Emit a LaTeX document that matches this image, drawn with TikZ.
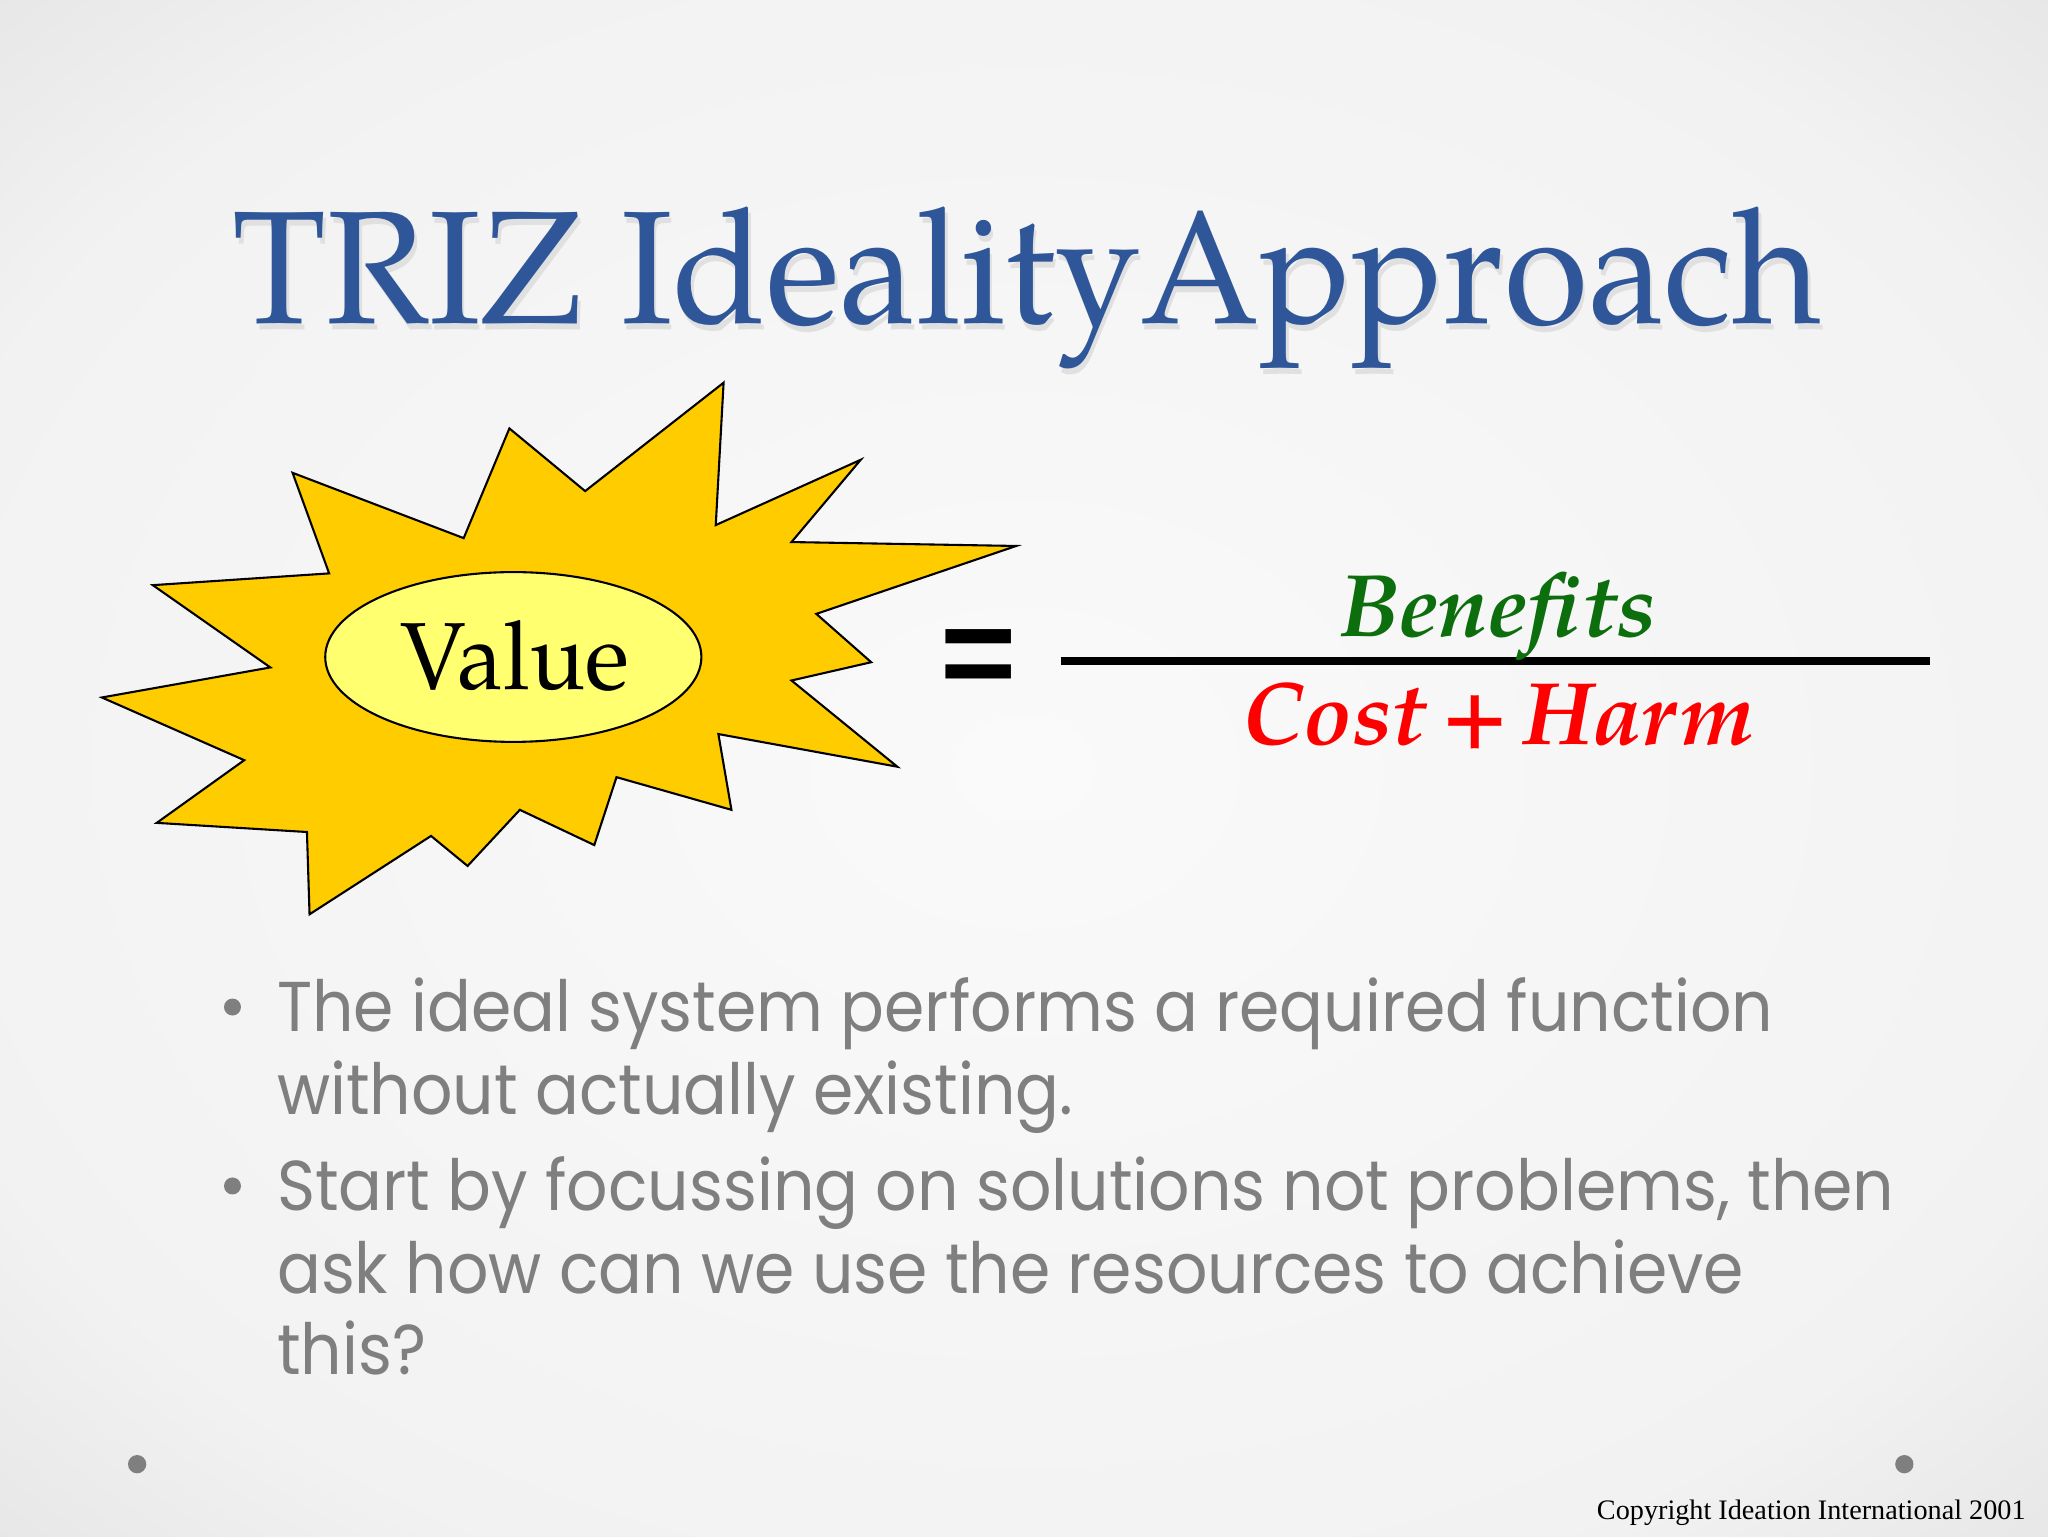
\documentclass[tikz,border=0pt]{standalone}
\usepackage{fontspec}
\setmainfont{Liberation Serif}
\newfontfamily\pagella{TeX Gyre Pagella}
\newfontfamily\gothic{Poppins}
\newfontfamily\arialf{Liberation Sans}
\usetikzlibrary{shapes.geometric}
\definecolor{titleblue}{RGB}{46,86,152}
\definecolor{bengreen}{RGB}{12,110,12}
\definecolor{starfill}{RGB}{255,204,0}
\definecolor{ellfill}{RGB}{255,255,112}
\definecolor{bulletgray}{RGB}{127,127,127}
\definecolor{bgin}{RGB}{250,250,250}
\definecolor{bgmid}{RGB}{242,242,242}
\definecolor{bgout}{RGB}{210,210,210}
\pgfdeclareradialshading{slidebg}{\pgfpoint{0bp}{0bp}}{color(0bp)=(bgin); color(28bp)=(bgmid); color(50bp)=(bgout)}
\tikzset{
  bodytext/.style={anchor=base west, inner sep=0pt, text=bulletgray, xscale=0.92, font=\gothic\fontsize{54}{54}\selectfont},
  bulletdot/.style={circle, fill=bulletgray, inner sep=0pt, minimum size=13pt},
  cornerdot/.style={circle, fill=bulletgray, inner sep=0pt, minimum size=14pt},
  fractext/.style={anchor=base, inner sep=0pt, font=\pagella\bfseries\itshape\fontsize{68}{68}\selectfont},
}
\begin{document}
\begin{tikzpicture}[x=1pt,y=-1pt]
\useasboundingbox (0,0) rectangle (1568,1176);
\shade[shading=slidebg] (0,0) rectangle (1568,1176);
% title
\node[anchor=base west, inner sep=0pt, xscale=0.954, text=black!12, font=\pagella\fontsize{123}{123}\selectfont] (titleshadow) at (180,252) {TRIZ IdealityApproach};
\node[anchor=base west, inner sep=0pt, xscale=0.954, text=titleblue, font=\pagella\fontsize{123}{123}\selectfont] (title) at (178,248) {TRIZ IdealityApproach};
% starburst
\draw[fill=starfill, line width=1.6pt, line join=miter]
  (554,293) -- (548,402) -- (659,352) -- (606,415) -- (778,418) -- (625,470)
  -- (667,507) -- (606,521) -- (687,587) -- (550,562) -- (560,620) -- (472,595)
  -- (455,647) -- (398,620) -- (358,663) -- (330,640) -- (237,700) -- (235,637)
  -- (120,630) -- (187,582) -- (78,534) -- (207,511) -- (117,448) -- (252,439)
  -- (224,362) -- (355,412) -- (390,328) -- (448,376) -- cycle;
\node[ellipse, draw, line width=1.6pt, fill=ellfill, minimum width=288pt, minimum height=130pt, inner sep=0pt] (valueell) at (393,503) {};
\node[anchor=base, inner sep=0pt, xscale=0.96, font=\pagella\fontsize{73}{73}\selectfont] (value) at (394,528) {Value};
% equals and fraction
\node[anchor=base, inner sep=0pt, font=\arialf\bfseries\fontsize{100}{100}\selectfont] (equals) at (749,534) {=};
\coordinate (fracL) at (812,506);
\coordinate (fracR) at (1478,506);
\draw[line width=6pt] (fracL) -- (fracR);
\node[fractext, text=bengreen] (benefits) at (1147,487) {Benefits};
\node[fractext, text=red] (costharm) at (1147,570) {Cost\,+\,Harm};
% bullets
\node[bulletdot] (b1) at (178,771) {};
\node[bodytext] (l1) at (212,790) {The ideal system performs a required function};
\node[bodytext] (l2) at (212,853) {without actually existing.};
\node[bulletdot] (b2) at (178,908) {};
\node[bodytext] (l3) at (212,927) {Start by focussing on solutions not problems, then};
\node[bodytext] (l4) at (212,990) {ask how can we use the resources to achieve};
\node[bodytext] (l5) at (212,1052) {this?};
% footer
\node[cornerdot] (dl) at (105,1121) {};
\node[cornerdot] (dr) at (1458,1121) {};
\node[anchor=base east, inner sep=0pt, font=\fontsize{21.6}{21.6}\selectfont] (copy) at (1551,1163) {Copyright Ideation International 2001};
\end{tikzpicture}
\end{document}
